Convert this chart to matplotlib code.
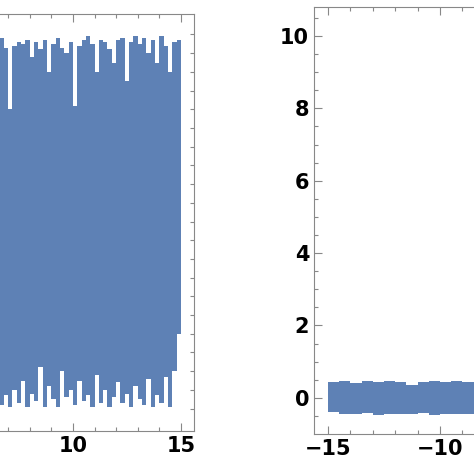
import numpy as np
import matplotlib.pyplot as plt

# envelope of the fast oscillation, left panel (step segments of 0.2 from x=6.6 to 15)
left_upper = [0.98, 0.93, 0.60, 0.94, 0.96, 0.95, 0.97, 0.88, 0.96, 0.92, 0.97, 0.80, 0.95, 0.98,
              0.93, 0.90, 0.96, 0.62, 0.94, 0.97, 0.99, 0.95, 0.80, 0.97, 0.96, 0.92, 0.85, 0.97,
              0.98, 0.75, 0.96, 0.99, 0.95, 0.98, 0.90, 0.97, 0.85, 0.99, 0.94, 0.80, 0.96, 0.97]
left_lower = [-0.98, -0.93, -0.99, -0.90, -0.97, -0.85, -0.99, -0.92, -0.96, -0.78, -0.99, -0.88,
              -0.95, -0.99, -0.80, -0.94, -0.90, -0.98, -0.85, -0.96, -0.93, -0.99, -0.82, -0.97,
              -0.90, -0.99, -0.94, -0.86, -0.97, -0.92, -0.99, -0.88, -0.95, -0.98, -0.84, -0.99,
              -0.93, -0.97, -0.83, -0.99, -0.80, -0.60]
left_start, left_end = 6.6, 15.0

# right panel envelope (step segments of 0.5 from x=-15 to 15)
right_upper = [0.45, 0.47, 0.42, 0.46, 0.44, 0.47, 0.45, 0.35, 0.44, 0.46, 0.43, 0.47, 0.45, 0.44, 0.46,
               0.43, 0.47, 0.45, 0.44, 0.46, 0.42, 0.47, 0.45, 0.44, 0.46, 0.43, 0.47, 0.45, 0.44, 0.46,
               0.44, 0.46, 0.41, 0.47, 0.45, 0.43, 0.46, 0.44, 0.47, 0.42, 0.45, 0.46, 0.44, 0.47, 0.43,
               0.46, 0.45, 0.44, 0.47, 0.42, 0.46, 0.45, 0.43, 0.47, 0.44, 0.46, 0.45, 0.43, 0.46, 0.44]
right_lower = [-0.38, -0.44, -0.46, -0.42, -0.47, -0.44, -0.46, -0.45, -0.43, -0.47, -0.44, -0.46,
               -0.45, -0.42, -0.47, -0.44, -0.46, -0.43, -0.45, -0.47, -0.44, -0.46, -0.42, -0.45,
               -0.47, -0.44, -0.46, -0.43, -0.45, -0.44, -0.46, -0.43, -0.47, -0.45, -0.41, -0.46,
               -0.44, -0.47, -0.43, -0.45, -0.46, -0.42, -0.47, -0.44, -0.45, -0.46, -0.43, -0.47,
               -0.44, -0.45, -0.46, -0.42, -0.47, -0.44, -0.45, -0.46, -0.43, -0.47, -0.45, -0.44]
right_start, right_end = -15, 15

col = '#5E81B5'
frame = '#888888'

fig = plt.figure(figsize=(4.74, 4.74), dpi=100)

def style(ax):
    for s in ax.spines.values():
        s.set_color(frame)
    ax.tick_params(which='both', direction='in', color=frame, top=True, right=True,
                   labelsize=15, width=0.8)
    ax.tick_params(which='major', length=6)
    ax.tick_params(which='minor', length=3)
    for t in ax.get_xticklabels() + ax.get_yticklabels():
        t.set_fontweight('bold')

# left panel
ax1 = fig.add_axes([-0.165, 0.0907, 0.574, 0.88])
xl = np.linspace(left_start, left_end, len(left_upper) + 1)
ax1.fill_between(xl, left_upper + [left_upper[-1]], left_lower + [left_lower[-1]],
                 step='post', color=col, lw=0)
ax1.set_xlim(3, 15.6)
ax1.set_ylim(-1.12, 1.11)
ax1.set_xticks([5, 10, 15])
ax1.set_xticks(np.arange(3, 16, 1), minor=True)
ax1.set_yticks([])
ax1.set_yticks(np.arange(-1.0, 1.01, 0.1), minor=True)
style(ax1)

# right panel
ax2 = fig.add_axes([314 / 474, 40 / 474, 700 / 474, 427 / 474])
xr = np.linspace(right_start, right_end, len(right_upper) + 1)
ax2.fill_between(xr, right_upper + [right_upper[-1]], right_lower + [right_lower[-1]],
                 step='post', color=col, lw=0)
ax2.set_xlim(-15.625, 15.625)
ax2.set_ylim(-1.0, 10.8)
ax2.set_xticks([-15, -10, -5, 0, 5, 10, 15])
ax2.set_xticklabels(['\u221215', '\u221210', '\u22125', '0', '5', '10', '15'])
ax2.set_xticks(np.arange(-15, 16, 1), minor=True)
ax2.set_yticks([0, 2, 4, 6, 8, 10])
ax2.set_yticks(np.arange(-0.5, 10.8, 0.5), minor=True)
style(ax2)

fig.savefig('out.png', dpi=100)
